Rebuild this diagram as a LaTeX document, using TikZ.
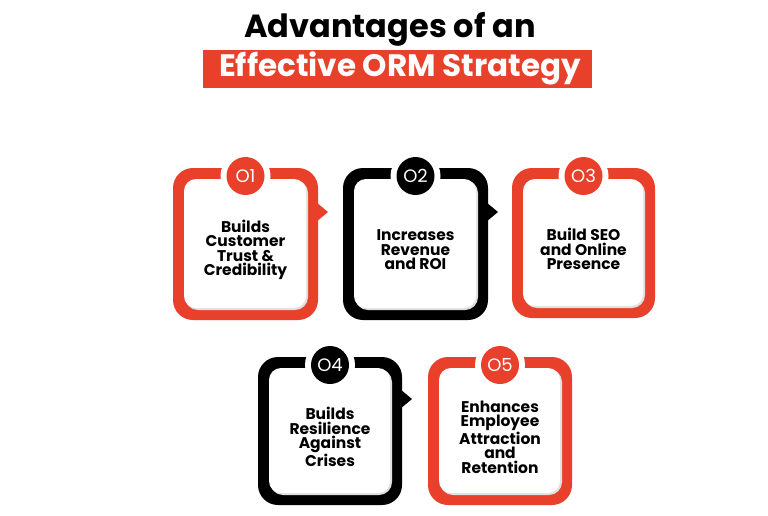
\documentclass[tikz,border=0pt]{standalone}
\usepackage{fontspec}
\setmainfont{Poppins}
\begin{document}
\begin{tikzpicture}[x=1pt,y=-1pt,
  txt/.style={font=\bfseries\fontsize{15.5}{14.5}\selectfont,align=center,text=black},
  num/.style={font=\fontsize{18}{18}\selectfont,text=white}]
\definecolor{ored}{HTML}{E8402A}
\useasboundingbox[fill=white] (0,0) rectangle (768,515);
\node[font=\bfseries\fontsize{32}{32}\selectfont] (t1) at (390,29) {Advantages of an};
\fill[ored] (203,50) rectangle (592,88);
\node[font=\bfseries\fontsize{31}{31}\selectfont,text=white] (t2) at (400,68) {Effective ORM Strategy};
\newcommand{\obox}[8]{% x1 y1 x2 y2 color num text arrow
  \fill[#5,rounded corners=20] (#1,#2) rectangle (#3,#4);
  \ifnum#8=1 \fill[#5] (#3-2,{(#2+#4)/2-72+30}) -- (#3+10,{(#2+#4)/2-72+40}) -- (#3-2,{(#2+#4)/2-72+50}) -- cycle;\fi
  \fill[black!12,rounded corners=13] (#1+12,#2+12) rectangle (#3-10,#4-10);
  \fill[white,rounded corners=12] (#1+11,#2+11) rectangle (#3-12,#4-12);
  \fill[white] ({(#1+#3)/2},#2+8) circle (25);
  \node[circle,fill=#5,minimum size=38,inner sep=0,num] (n#6) at ({(#1+#3)/2},#2+8) {O#6};
  \node[txt] (b#6) at ({(#1+#3)/2},{(#2+#4)/2+6}) {#7};
}
\obox{173}{168}{318}{320}{ored}{1}{Builds\\Customer\\Trust \&\\Credibility}{1}
\obox{343}{168}{488}{320}{black}{2}{Increases\\Revenue\\and ROI}{1}
\obox{512}{168}{655}{318}{ored}{3}{Build SEO\\and Online\\Presence}{0}
\obox{258}{357}{402}{505}{black}{4}{Builds\\Resilience\\Against\\Crises}{1}
\obox{428}{357}{572}{505}{ored}{5}{Enhances\\Employee\\Attraction\\and\\Retention}{0}
\end{tikzpicture}
\end{document}
